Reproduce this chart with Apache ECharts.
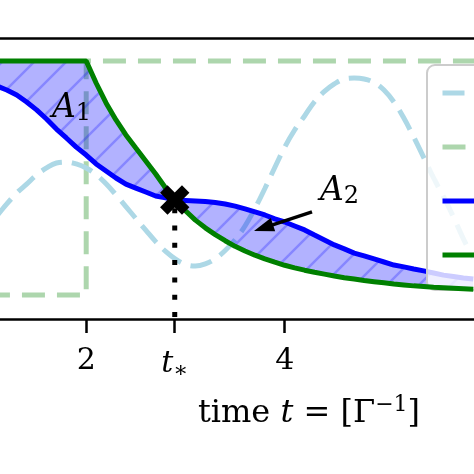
<!DOCTYPE html>
<html>
<head>
<meta charset="utf-8">
<script src="https://cdn.jsdelivr.net/npm/echarts@6/dist/echarts.min.js"></script>
<style>
  html, body { margin: 0; padding: 0; background: #fff; }
  #chart { width: 474px; height: 474px; }
</style>
</head>
<body>
<div id="chart"></div>
<script>
// crossing point of the two solid curves
const tStar = 2.892;
const yStar = 0.406;

// shared time grid for the two solid curves
const times = [1.1, 1.2, 1.3, 1.4, 1.5, 1.6, 1.7, 1.8, 1.9, 2.0, 2.1, 2.2, 2.3, 2.4, 2.5, 2.6, 2.7, 2.8, tStar,
  3.0, 3.1, 3.2, 3.3, 3.4, 3.5, 3.6, 3.7, 3.8, 3.9, 4.0, 4.1, 4.2, 4.3, 4.4, 4.5, 4.6, 4.7, 4.8, 4.9,
  5.0, 5.1, 5.2, 5.3, 5.4, 5.5, 5.6, 5.7, 5.8, 5.9];
const blueVals = [0.893, 0.876, 0.855, 0.825, 0.791, 0.752, 0.709, 0.671, 0.632, 0.598, 0.560, 0.530, 0.500, 0.474, 0.457, 0.440, 0.423, 0.415, yStar,
  0.404, 0.402, 0.400, 0.395, 0.389, 0.380, 0.368, 0.355, 0.342, 0.325, 0.312, 0.295, 0.278, 0.256, 0.235, 0.214, 0.197, 0.179, 0.167, 0.154,
  0.141, 0.128, 0.120, 0.111, 0.103, 0.094, 0.085, 0.079, 0.073, 0.068];
const greenVals = [1, 1, 1, 1, 1, 1, 1, 1, 1, 1, 0.906, 0.821, 0.748, 0.684, 0.628, 0.573, 0.517, 0.457, yStar,
  0.360, 0.320, 0.287, 0.258, 0.232, 0.208, 0.188, 0.170, 0.154, 0.140, 0.127, 0.116, 0.106, 0.097, 0.089, 0.081, 0.074, 0.068, 0.062, 0.057,
  0.052, 0.047, 0.043, 0.039, 0.036, 0.033, 0.031, 0.029, 0.027, 0.025];

// dashed light blue oscillation
const cyanTimes = [1.1, 1.2, 1.3, 1.4, 1.5, 1.6, 1.7, 1.8, 1.9, 2.0, 2.1, 2.2, 2.3, 2.4, 2.5, 2.6, 2.7, 2.8, 2.9,
  3.0, 3.1, 3.2, 3.3, 3.4, 3.5, 3.6, 3.7, 3.8, 3.9, 4.0, 4.1, 4.2, 4.3, 4.4, 4.5, 4.6, 4.7, 4.8, 4.9,
  5.0, 5.1, 5.2, 5.3, 5.4, 5.5, 5.6, 5.7, 5.8, 5.9];
const cyanVals = [0.338, 0.389, 0.436, 0.474, 0.513, 0.543, 0.564, 0.568, 0.560, 0.543, 0.515, 0.475, 0.428, 0.378, 0.327, 0.277, 0.228, 0.186, 0.153,
  0.131, 0.124, 0.133, 0.155, 0.190, 0.236, 0.295, 0.370, 0.455, 0.545, 0.632, 0.705, 0.765, 0.826, 0.870, 0.902, 0.923, 0.927, 0.923, 0.908,
  0.876, 0.825, 0.756, 0.675, 0.588, 0.500, 0.420, 0.333, 0.240, 0.158];

// dashed green step
const stepTimes = [1.0, 2.0, 2.0, 6.0];
const stepVals = [0, 0, 1, 1];

// arrow towards the second area
const arrowFrom = [4.275, 0.355];
const arrowTo = [3.786, 0.287];

const tickValues = [2, tStar, 4];
const seriesNames = ['control field Ω(t)', 'target step θ(t)', 'population P(t)', 'adiabatic P₀(t)'];

const xMin = 1.1315, xMax = 5.907;
const yMin = -0.1026, yMax = 1.0983;
const serif = '"DejaVu Serif", "Liberation Serif", serif';

// hatch pattern for the area between the curves
const hatch = document.createElement('canvas');
hatch.width = 32; hatch.height = 32;
const hc = hatch.getContext('2d');
hc.fillStyle = 'rgba(0,0,255,0.3)';
hc.fillRect(0, 0, 32, 32);
hc.strokeStyle = 'rgba(0,0,255,0.25)';
hc.lineWidth = 2.5;
[[-4, 36, 36, -4], [-4, 4, 4, -4], [28, 36, 36, 28]].forEach(function (s) {
  hc.beginPath(); hc.moveTo(s[0], s[1]); hc.lineTo(s[2], s[3]); hc.stroke();
});

function pairs(xs, ys) {
  return xs.map(function (x, i) { return [x, ys[i]]; });
}

const chart = echarts.init(document.getElementById('chart'));
chart.setOption({
  animation: false,
  grid: { left: 0, right: 0, top: 38, bottom: 155 },
  xAxis: [{
    type: 'value', min: xMin, max: xMax, position: 'bottom',
    axisLine: { onZero: false, lineStyle: { color: '#000', width: 2.5 } },
    axisTick: { customValues: tickValues, length: 14, lineStyle: { color: '#000', width: 2.5 } },
    axisLabel: {
      customValues: tickValues, margin: 27, color: '#000',
      formatter: function (v) {
        return Math.abs(v - tStar) < 1e-6 ? '{it|t}{sub|∗}' : '{n|' + v + '}';
      },
      rich: {
        n: { fontSize: 30, fontFamily: serif, color: '#000' },
        it: { fontSize: 30, fontFamily: serif, fontStyle: 'italic', color: '#000' },
        sub: { fontSize: 22, fontFamily: serif, color: '#000', padding: [14, 0, 0, 0] }
      }
    },
    splitLine: { show: false }
  }, {
    type: 'value', min: xMin, max: xMax, position: 'top',
    axisLine: { onZero: false, lineStyle: { color: '#000', width: 2.5 } },
    axisTick: { show: false }, axisLabel: { show: false }, splitLine: { show: false }
  }],
  yAxis: { type: 'value', min: yMin, max: yMax, show: false },
  legend: {
    orient: 'vertical', left: 427, top: 65,
    padding: [14, 60, 21, 13], itemGap: 26, itemWidth: 44, itemHeight: 20,
    backgroundColor: 'rgba(255,255,255,0.8)', borderColor: '#cccccc', borderWidth: 2, borderRadius: 8,
    itemStyle: { opacity: 0 },
    lineStyle: { width: 5 },
    textStyle: { fontSize: 28, fontFamily: serif, color: '#000' },
    data: seriesNames
  },
  series: [
    {
      name: seriesNames[1], type: 'line', data: pairs(stepTimes, stepVals), symbol: 'none', z: 1,
      lineStyle: { color: 'rgba(0,128,0,0.32)', width: 5, type: [23, 12] },
      itemStyle: { color: 'rgba(0,128,0,0.32)' }
    },
    {
      name: seriesNames[0], type: 'line', data: pairs(cyanTimes, cyanVals), symbol: 'none', smooth: 0.4, z: 1,
      lineStyle: { color: '#add8e6', width: 5, type: [22, 10] },
      itemStyle: { color: '#add8e6' }
    },
    {
      type: 'custom', data: [[tStar, yStar]], silent: true, z: 2,
      renderItem: function (params, api) {
        const pts = times.map(function (t, i) { return api.coord([t, blueVals[i]]); });
        for (let i = times.length - 1; i >= 0; i--) pts.push(api.coord([times[i], greenVals[i]]));
        return { type: 'polygon', shape: { points: pts }, style: { fill: { image: hatch, repeat: 'repeat' }, stroke: null } };
      }
    },
    {
      name: seriesNames[2], type: 'line', data: pairs(times, blueVals), symbol: 'none', z: 3,
      lineStyle: { color: '#0000ff', width: 5 }, itemStyle: { color: '#0000ff' },
      markLine: {
        silent: true, symbol: ['none', 'path://M7,0L14,20L0,20Z'], symbolSize: [14, 20],
        lineStyle: { color: '#000', width: 3.5, type: 'solid' }, label: { show: false },
        data: [[{ coord: arrowFrom }, { coord: arrowTo }]]
      }
    },
    {
      name: seriesNames[3], type: 'line', data: pairs(times, greenVals), symbol: 'none', z: 4,
      lineStyle: { color: '#008000', width: 5 }, itemStyle: { color: '#008000' }
    },
    {
      type: 'line', data: [[tStar, -0.094], [tStar, yStar]], symbol: 'none', z: 5,
      lineStyle: { color: '#000', width: 5, type: [5, 12.3], cap: 'butt' }
    },
    {
      type: 'scatter', data: [[tStar, yStar]], z: 6,
      symbol: 'path://M33,0H67V33H100V67H67V100H33V67H0V33H33Z', symbolRotate: 45, symbolSize: 31,
      itemStyle: { color: '#000', opacity: 1 }
    }
  ],
  graphic: [
    {
      type: 'text', x: 52, y: 108, z: 10,
      style: { text: '{a|A}{s|1}', align: 'left', verticalAlign: 'middle',
        rich: { a: { fontSize: 33, fontFamily: serif, fontStyle: 'italic', fill: '#000' },
                s: { fontSize: 24, fontFamily: serif, fill: '#000', padding: [12, 0, 0, 0] } } }
    },
    {
      type: 'text', x: 320, y: 191, z: 10,
      style: { text: '{a|A}{s|2}', align: 'left', verticalAlign: 'middle',
        rich: { a: { fontSize: 33, fontFamily: serif, fontStyle: 'italic', fill: '#000' },
                s: { fontSize: 24, fontFamily: serif, fill: '#000', padding: [12, 0, 0, 0] } } }
    },
    {
      type: 'text', x: 309, y: 414, z: 10,
      style: { text: 'time {i|t} = [Γ{sup|−1}]', align: 'center', verticalAlign: 'middle',
        fontSize: 32, fontFamily: serif, fill: '#000',
        rich: { i: { fontSize: 32, fontFamily: serif, fontStyle: 'italic', fill: '#000' },
                sup: { fontSize: 22, fontFamily: serif, fill: '#000', padding: [0, 0, 18, 0] } } }
    }
  ]
});
</script>
</body>
</html>
